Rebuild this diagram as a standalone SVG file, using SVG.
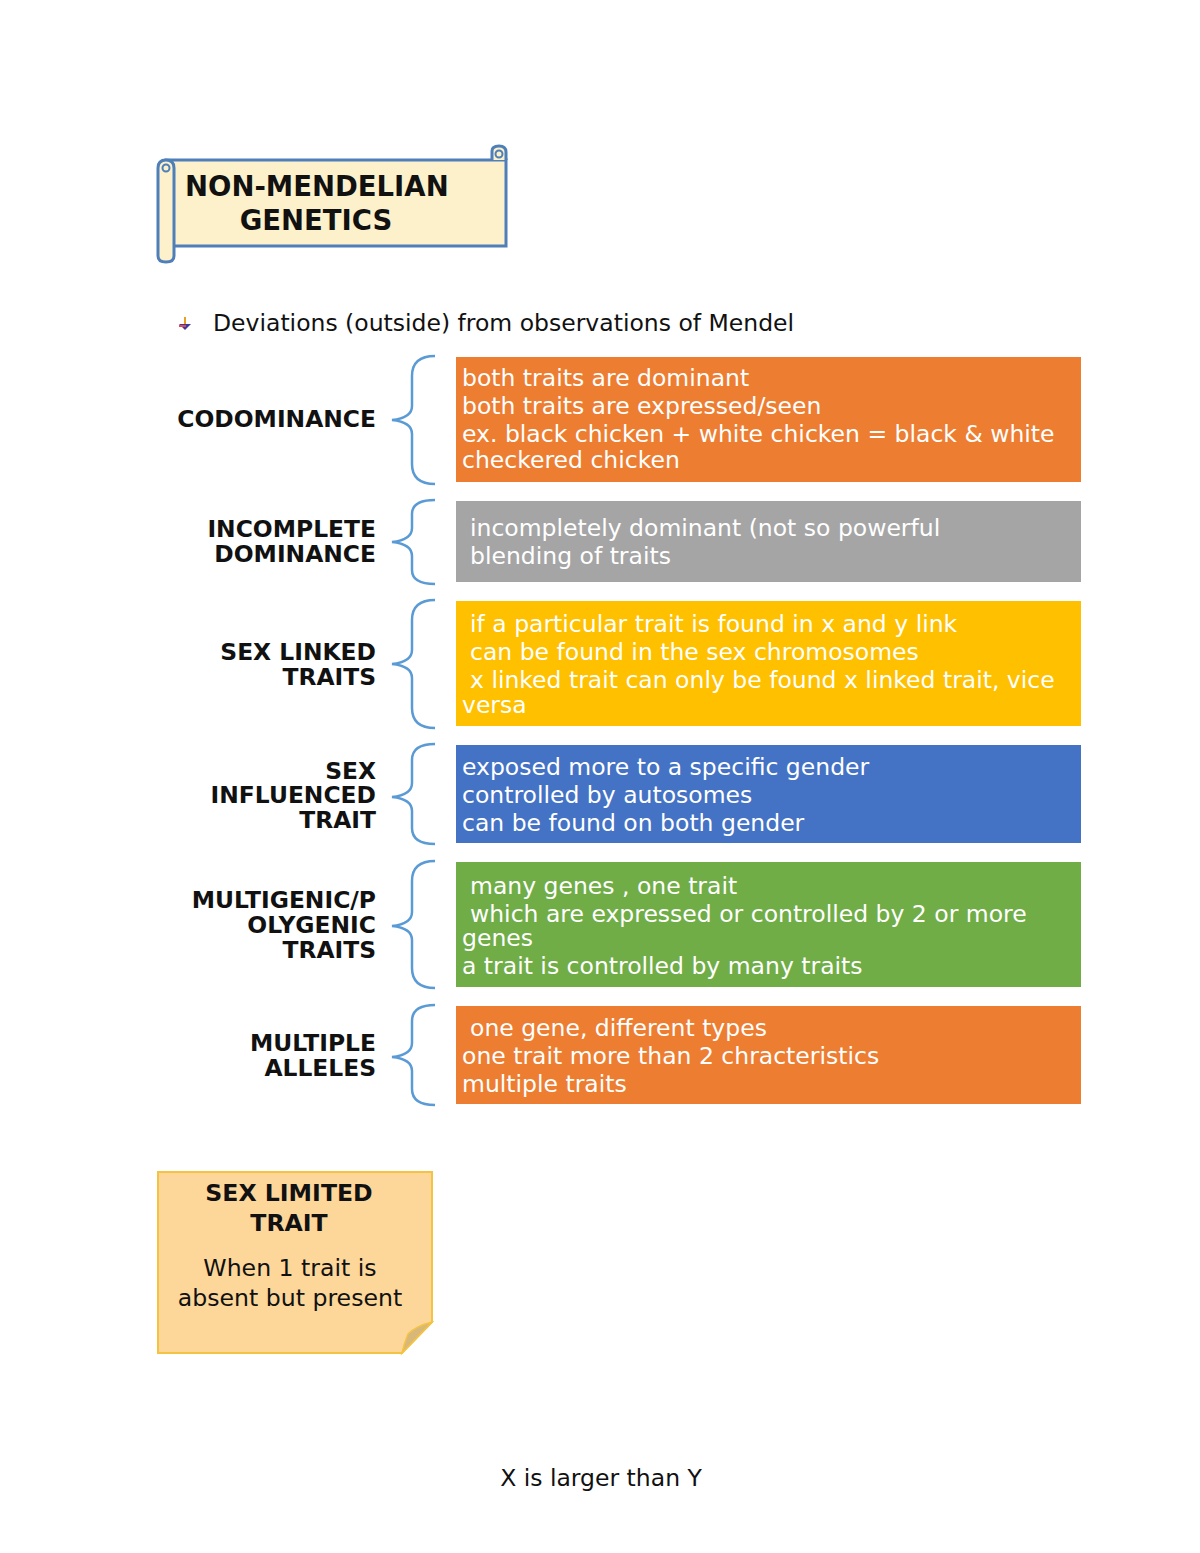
<svg xmlns="http://www.w3.org/2000/svg" width="1200" height="1553" viewBox="0 0 1200 1553">
<style>
text{font-family:"DejaVu Sans","Liberation Sans",sans-serif}
.title{font-size:27.5px;font-weight:bold;fill:#111}
.lab{font-size:23.4px;font-weight:bold;fill:#111;text-anchor:end}
.body{font-size:23.5px;fill:#ffffff}
.intro{font-size:23.5px;fill:#111}
.brace{fill:none;stroke:#5b9bd5;stroke-width:2.5}
.note{font-size:23.6px;fill:#111;text-anchor:middle}
.noteb{font-size:23.6px;font-weight:bold;fill:#111;text-anchor:middle}
</style>
<rect width="1200" height="1553" fill="#ffffff"/>
<g id="title">
<path d="M166,160 L506,160 L506,246 L166,246 Z" fill="#fdf1cc" stroke="#4f7fb8" stroke-width="3"/>
<path d="M492,160 L492,151 Q492,146 499,146 Q506,146 506,152 L506,160" fill="#fdf1cc" stroke="#4f7fb8" stroke-width="3"/>
<circle cx="499" cy="154" r="3.5" fill="none" stroke="#4f7fb8" stroke-width="2"/>
<path d="M158,168 Q158,160 166,160 Q174,160 174,168 L174,256 Q174,262 166,262 Q158,262 158,256 Z" fill="#fdf1cc" stroke="#4f7fb8" stroke-width="3"/>
<circle cx="166" cy="168" r="3.5" fill="none" stroke="#4f7fb8" stroke-width="2"/>
<text class="title" x="185" y="196">NON-MENDELIAN</text>
<text class="title" x="316" y="230" text-anchor="middle">GENETICS</text>
</g>
<g id="intro">
<path d="M185,317 L185,328" stroke="#e8a020" stroke-width="2"/>
<path d="M179,324 L191,324 L185,330 Z" fill="#3a3aa0"/>
<path d="M179,326 L186,326" stroke="#e24a4a" stroke-width="2"/>
<text class="intro" x="213" y="331">Deviations (outside) from observations of Mendel</text>
</g>
<g id="connectors">
<path class="brace" d="M435,356 Q412,356 412,376 L412,406 Q412,418 392,420 Q412,422 412,434 L412,464 Q412,484 435,484"/>
<path class="brace" d="M435,500 Q412,500 412,514 L412,528 Q412,540 392,542 Q412,544 412,556 L412,570 Q412,584 435,584"/>
<path class="brace" d="M435,600 Q412,600 412,620 L412,650 Q412,662 392,664 Q412,666 412,678 L412,708 Q412,728 435,728"/>
<path class="brace" d="M435,744 Q412,744 412,760 L412,783 Q412,795 392,797 Q412,799 412,811 L412,828 Q412,844 435,844"/>
<path class="brace" d="M435,861 Q412,861 412,881 L412,912 Q412,924 392,926 Q412,928 412,940 L412,968 Q412,988 435,988"/>
<path class="brace" d="M435,1005 Q412,1005 412,1021 L412,1043 Q412,1055 392,1057 Q412,1059 412,1071 L412,1089 Q412,1105 435,1105"/>
</g>
<g id="codominance">
<text class="lab" x="376" y="427">CODOMINANCE</text>
<rect x="456" y="357" width="625" height="125" fill="#ed7d31"/>
<text class="body" x="462" y="386">both traits are dominant</text>
<text class="body" x="462" y="414">both traits are expressed/seen</text>
<text class="body" x="462" y="442">ex. black chicken + white chicken = black &amp; white</text>
<text class="body" x="462" y="468">checkered chicken</text>
</g>
<g id="incomplete">
<text class="lab" x="376" y="537">INCOMPLETE</text>
<text class="lab" x="376" y="562">DOMINANCE</text>
<rect x="456" y="501" width="625" height="81" fill="#a5a5a5"/>
<text class="body" x="470" y="536">incompletely dominant (not so powerful</text>
<text class="body" x="470" y="564">blending of traits</text>
</g>
<g id="sexlinked">
<text class="lab" x="376" y="660">SEX LINKED</text>
<text class="lab" x="376" y="685">TRAITS</text>
<rect x="456" y="601" width="625" height="125" fill="#ffc000"/>
<text class="body" x="470" y="632">if a particular trait is found in x and y link</text>
<text class="body" x="470" y="660">can be found in the sex chromosomes</text>
<text class="body" x="470" y="688">x linked trait can only be found x linked trait, vice</text>
<text class="body" x="462" y="713">versa</text>
</g>
<g id="sexinfluenced">
<text class="lab" x="376" y="779">SEX</text>
<text class="lab" x="376" y="803">INFLUENCED</text>
<text class="lab" x="376" y="828">TRAIT</text>
<rect x="456" y="745" width="625" height="98" fill="#4472c4"/>
<text class="body" x="462" y="775">exposed more to a specific gender</text>
<text class="body" x="462" y="803">controlled by autosomes</text>
<text class="body" x="462" y="831">can be found on both gender</text>
</g>
<g id="multigenic">
<text class="lab" x="376" y="908">MULTIGENIC/P</text>
<text class="lab" x="376" y="933">OLYGENIC</text>
<text class="lab" x="376" y="958">TRAITS</text>
<rect x="456" y="862" width="625" height="125" fill="#70ad47"/>
<text class="body" x="470" y="894">many genes , one trait</text>
<text class="body" x="470" y="922">which are expressed or controlled by 2 or more</text>
<text class="body" x="462" y="946">genes</text>
<text class="body" x="462" y="974">a trait is controlled by many traits</text>
</g>
<g id="multiplealleles">
<text class="lab" x="376" y="1051">MULTIPLE</text>
<text class="lab" x="376" y="1076">ALLELES</text>
<rect x="456" y="1006" width="625" height="98" fill="#ed7d31"/>
<text class="body" x="470" y="1036">one gene, different types</text>
<text class="body" x="462" y="1064">one trait more than 2 chracteristics</text>
<text class="body" x="462" y="1092">multiple traits</text>
</g>
<g id="sexlimited">
<path d="M158,1172 L432,1172 L432,1322 L402,1353 L158,1353 Z" fill="#fdd79a" stroke="#f5c342" stroke-width="2"/>
<path d="M432,1322 Q416,1326 408,1334 Q404,1344 402,1353 Z" fill="#d8b77a" stroke="#f5c342" stroke-width="1.5"/>
<text class="noteb" x="289" y="1201">SEX LIMITED</text>
<text class="noteb" x="289" y="1231">TRAIT</text>
<text class="note" x="290" y="1276">When 1 trait is</text>
<text class="note" x="290" y="1306">absent but present</text>
</g>
<g id="footer">
<text class="intro" x="601" y="1486" text-anchor="middle">X is larger than Y</text>
</g>
</svg>
